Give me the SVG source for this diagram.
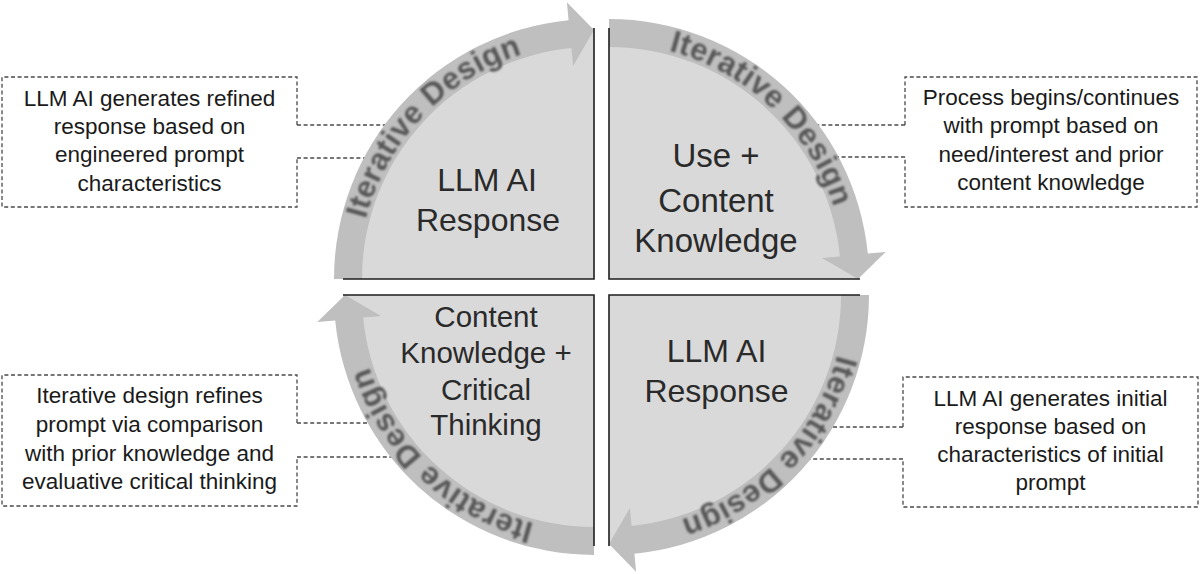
<svg xmlns="http://www.w3.org/2000/svg" width="1200" height="574" viewBox="0 0 1200 574">
  <defs>
    <style>
      .box { fill: #ffffff; stroke: none; }
      .boxline { fill: none; stroke: #4a4a4a; stroke-width: 1.3; stroke-dasharray: 4 2.6; }
      .conn { fill: none; stroke: #4a4a4a; stroke-width: 1.3; stroke-dasharray: 4 2.6; }
      .pie { fill: #d9d9d9; stroke: none; }
      .edge { fill: none; stroke: #1e1e1e; stroke-width: 1.6; }
      .band { fill: #bfbfbf; stroke: none; }
      .btxt { font-family: "Liberation Sans", Arial, sans-serif; font-size: 22.5px; fill: #1a1a1a; text-anchor: middle; }
      .qtxt { font-family: "Liberation Sans", Arial, sans-serif; fill: #2a2a2a; text-anchor: middle; }
      .itxt { font-family: "Liberation Sans", Arial, sans-serif; font-weight: bold; font-size: 31px; letter-spacing: 0.4px; fill: #585858; }
    </style>
    <filter id="soft" x="-10%" y="-10%" width="120%" height="120%">
      <feGaussianBlur stdDeviation="0.85"/>
    </filter>
    <path id="tp1" d="M358,279 A236,236 0 0,1 581.7,43.3"/>
    <path id="tp2" d="M609,43 A236,236 0 0,1 844.7,266.7"/>
    <path id="tp3" d="M845,295 A236,236 0 0,1 621.3,530.7"/>
    <path id="tp4" d="M594,531 A236,236 0 0,1 358.3,307.3"/>
  </defs>

  <rect width="1200" height="574" fill="#ffffff"/>

  <!-- callout boxes -->
  <g id="box-tl">
    <rect class="box" x="2" y="77" width="295" height="130"/>
    <path class="boxline" d="M297,125 V77 H2 V207 H297 V158"/>
    <text class="btxt" x="149.5" y="106">LLM AI generates refined</text>
    <text class="btxt" x="149.5" y="134">response based on</text>
    <text class="btxt" x="149.5" y="162">engineered prompt</text>
    <text class="btxt" x="149.5" y="190.5">characteristics</text>
  </g>
  <g id="box-tr">
    <rect class="box" x="905" y="77" width="292" height="130"/>
    <path class="boxline" d="M905,125 V77 H1197 V207 H905 V157"/>
    <text class="btxt" x="1051" y="105">Process begins/continues</text>
    <text class="btxt" x="1051" y="133">with prompt based on</text>
    <text class="btxt" x="1051" y="161.5">need/interest and prior</text>
    <text class="btxt" x="1051" y="190">content knowledge</text>
  </g>
  <g id="box-bl">
    <rect class="box" x="2" y="375" width="295" height="131"/>
    <path class="boxline" d="M297,423 V375 H2 V506 H297 V457"/>
    <text class="btxt" x="149.5" y="403">Iterative design refines</text>
    <text class="btxt" x="149.5" y="431.5">prompt via comparison</text>
    <text class="btxt" x="149.5" y="460.5">with prior knowledge and</text>
    <text class="btxt" x="149.5" y="489">evaluative critical thinking</text>
  </g>
  <g id="box-br">
    <rect class="box" x="903" y="377" width="295" height="130"/>
    <path class="boxline" d="M903,427 V377 H1198 V507 H903 V459"/>
    <text class="btxt" x="1050.5" y="406">LLM AI generates initial</text>
    <text class="btxt" x="1050.5" y="434">response based on</text>
    <text class="btxt" x="1050.5" y="462">characteristics of initial</text>
    <text class="btxt" x="1050.5" y="490">prompt</text>
  </g>

  <!-- connectors -->
  <g id="connectors">
    <path class="conn" d="M297,125 H440 M297,158 H440"/>
    <path class="conn" d="M905,125 H760 M905,157 H760"/>
    <path class="conn" d="M297,423 H450 M297,457 H450"/>
    <path class="conn" d="M903,427 H750 M903,459 H750"/>
  </g>

  <!-- quadrants -->
  <g id="q-tl">
    <path class="pie" d="M594,279 H343 A251,251 0 0,1 594,28 Z"/>
    <path class="band" d="M334,279 A260,260 0 0,1 568.6,20.2 L566.9,2.3 L594,30 L573.1,66 L571.4,48.1 A232,232 0 0,0 362,279 Z"/>
    <path class="edge" d="M343,279 H594 V28"/>
    <text class="itxt" filter="url(#soft)"><textPath href="#tp1" startOffset="50%" text-anchor="middle">Iterative Design</textPath></text>
    <text class="qtxt" font-size="32" x="487" y="191">LLM AI</text>
    <text class="qtxt" font-size="32" x="488" y="231">Response</text>
  </g>
  <g id="q-tr">
    <path class="pie" d="M609,279 V28 A251,251 0 0,1 860,279 Z"/>
    <path class="band" d="M609,19 A260,260 0 0,1 867.8,253.6 L885.7,251.9 L858,279 L822,258.1 L839.9,256.4 A232,232 0 0,0 609,47 Z"/>
    <path class="edge" d="M609,28 V279 H860"/>
    <text class="itxt" filter="url(#soft)"><textPath href="#tp2" startOffset="50%" text-anchor="middle">Iterative Design</textPath></text>
    <text class="qtxt" font-size="33" x="716" y="167">Use +</text>
    <text class="qtxt" font-size="33" x="716" y="211.5">Content</text>
    <text class="qtxt" font-size="33" x="716" y="251.5">Knowledge</text>
  </g>
  <g id="q-br">
    <path class="pie" d="M609,295 H860 A251,251 0 0,1 609,546 Z"/>
    <path class="band" d="M869,295 A260,260 0 0,1 634.4,553.8 L636.1,571.7 L609,544 L629.9,508 L631.6,525.9 A232,232 0 0,0 841,295 Z"/>
    <path class="edge" d="M860,295 H609 V546"/>
    <text class="itxt" filter="url(#soft)"><textPath href="#tp3" startOffset="50%" text-anchor="middle">Iterative Design</textPath></text>
    <text class="qtxt" font-size="32" x="716.5" y="362">LLM AI</text>
    <text class="qtxt" font-size="32" x="716.5" y="402">Response</text>
  </g>
  <g id="q-bl">
    <path class="pie" d="M594,295 V546 A251,251 0 0,1 343,295 Z"/>
    <path class="band" d="M594,555 A260,260 0 0,1 335.2,320.4 L317.3,322.1 L345,295 L381,315.9 L363.1,317.6 A232,232 0 0,0 594,527 Z"/>
    <path class="edge" d="M343,295 H594 V546"/>
    <text class="itxt" filter="url(#soft)"><textPath href="#tp4" startOffset="50%" text-anchor="middle">Iterative Design</textPath></text>
    <text class="qtxt" font-size="29.5" x="486" y="327">Content</text>
    <text class="qtxt" font-size="29.5" x="486" y="363">Knowledge +</text>
    <text class="qtxt" font-size="29.5" x="486" y="400">Critical</text>
    <text class="qtxt" font-size="29.5" x="486" y="435">Thinking</text>
  </g>
</svg>
